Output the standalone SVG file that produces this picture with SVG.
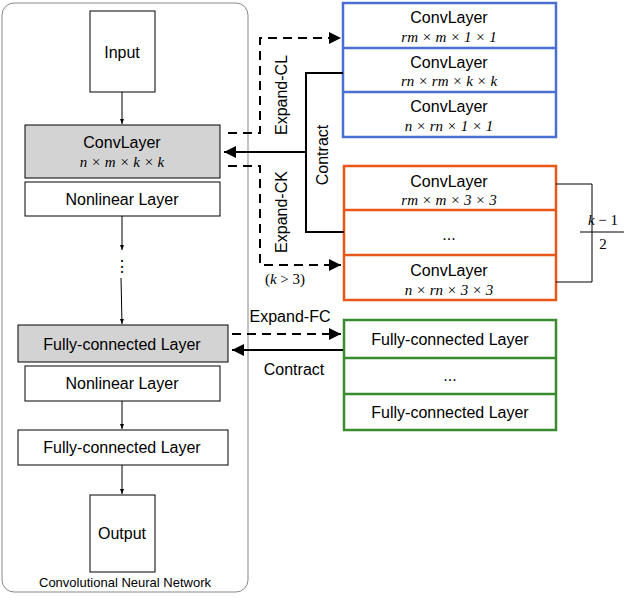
<svg xmlns="http://www.w3.org/2000/svg" width="627" height="606" viewBox="0 0 627 606">
<style>
text{font-family:"Liberation Sans",Arial,sans-serif;font-size:16px;fill:#000;text-anchor:middle}
.m{font-family:"Liberation Serif","DejaVu Serif",serif;font-style:italic;font-size:15px}
.b{fill:#fff;stroke:#000;stroke-width:1}
.g{fill:#d3d3d3;stroke:#000;stroke-width:1}
.blue{fill:#fff;stroke:#4a6fd0;stroke-width:2.5}
.or{fill:#fff;stroke:#e8561a;stroke-width:2.5}
.gr{fill:#fff;stroke:#3a8a2e;stroke-width:2.5}
.s{fill:none;stroke:#000;stroke-width:2}
.d{fill:none;stroke:#000;stroke-width:2;stroke-dasharray:9,6}
.t{fill:none;stroke:#000;stroke-width:1}
</style>
<defs>
<marker id="a" viewBox="0 0 10 10" refX="10" refY="5" markerWidth="6" markerHeight="6" orient="auto"><path d="M0,0L10,5L0,10z"/></marker>
<marker id="s" viewBox="0 0 10 10" refX="10" refY="5" markerWidth="5" markerHeight="5" orient="auto"><path d="M0,1L10,5L0,9z"/></marker>
</defs>
<g id="cnn"><rect x="2" y="3" width="246" height="589" rx="12" fill="#fff" stroke="#888" stroke-width="1"/><text x="125" y="587" style="font-size:13px">Convolutional Neural Network</text></g>
<g id="input"><rect class="b" x="90" y="11" width="65" height="81"/><text x="122" y="58">Input</text></g>
<g id="conv"><rect class="g" x="25" y="125" width="195" height="53"/><text x="122" y="148">ConvLayer</text><text class="m" x="122" y="167">n × m × k × k</text></g>
<g id="nl1"><rect class="b" x="25" y="182" width="195" height="34"/><text x="122" y="205">Nonlinear Layer</text></g>
<g id="dots"><text x="122" y="272">⋮</text></g>
<g id="fc"><rect class="g" x="18" y="325" width="210" height="37"/><text x="122" y="350">Fully-connected Layer</text></g>
<g id="nl2"><rect class="b" x="25" y="366" width="195" height="35"/><text x="122" y="389">Nonlinear Layer</text></g>
<g id="fc2"><rect class="b" x="18" y="430" width="210" height="35"/><text x="122" y="453">Fully-connected Layer</text></g>
<g id="output"><rect class="b" x="90" y="495" width="65" height="77"/><text x="122" y="539">Output</text></g>
<g id="blue">
<rect class="blue" x="343" y="3" width="213" height="134"/><line class="blue" x1="343" y1="48" x2="556" y2="48"/><line class="blue" x1="343" y1="92" x2="556" y2="92"/>
<text x="449" y="23">ConvLayer</text><text class="m" x="449" y="42">rm × m × 1 × 1</text>
<text x="449" y="68">ConvLayer</text><text class="m" x="449" y="86">rn × rm × k × k</text>
<text x="449" y="112">ConvLayer</text><text class="m" x="449" y="131">n × rn × 1 × 1</text>
</g>
<g id="orange">
<rect class="or" x="344" y="166" width="212" height="134"/><line class="or" x1="344" y1="210" x2="556" y2="210"/><line class="or" x1="344" y1="255" x2="556" y2="255"/>
<text x="449" y="187">ConvLayer</text><text class="m" x="449" y="205">rm × m × 3 × 3</text>
<text x="449" y="240">...</text>
<text x="449" y="276">ConvLayer</text><text class="m" x="449" y="295">n × rn × 3 × 3</text>
</g>
<g id="green">
<rect class="gr" x="344" y="320" width="212" height="110"/><line class="gr" x1="344" y1="358" x2="556" y2="358"/><line class="gr" x1="344" y1="394" x2="556" y2="394"/>
<text x="450" y="345">Fully-connected Layer</text><text x="450" y="381">...</text><text x="450" y="418">Fully-connected Layer</text>
</g>
<g id="bracket"><path class="t" d="M556,184H592V282H556"/><line class="t" x1="580" y1="232" x2="624" y2="232"/><text class="m" x="603" y="225" style="font-style:normal"><tspan font-style="italic">k</tspan> − 1</text><text class="m" x="603" y="249" style="font-style:normal">2</text></g>
<g id="connectors">
<line class="t" x1="122" y1="92" x2="122" y2="124" marker-end="url(#s)"/>
<line class="t" x1="122" y1="216" x2="122" y2="250" marker-end="url(#s)"/>
<line class="t" x1="121" y1="278" x2="122" y2="324" marker-end="url(#s)"/>
<line class="t" x1="122" y1="401" x2="122" y2="429" marker-end="url(#s)"/>
<line class="t" x1="122" y1="465" x2="122" y2="494" marker-end="url(#s)"/>
<path class="d" d="M228,133H260V38H341" marker-end="url(#a)"/>
<path class="d" d="M228,166H260V265H341" marker-end="url(#a)"/>
<path class="s" d="M343,73H306V232H344"/>
<line class="s" x1="306" y1="152" x2="224" y2="152" marker-end="url(#a)"/>
<line class="d" x1="232" y1="334" x2="341" y2="334" marker-end="url(#a)"/>
<line class="s" x1="343" y1="350" x2="232" y2="350" marker-end="url(#a)"/>
<text transform="translate(287,95) rotate(-90)">Expand-CL</text>
<text transform="translate(328,155) rotate(-90)">Contract</text>
<text transform="translate(287,212) rotate(-90)">Expand-CK</text>
<text class="m" x="285" y="284" style="font-style:normal">(<tspan font-style="italic">k</tspan> &gt; 3)</text>
<text x="290" y="322">Expand-FC</text>
<text x="294" y="375">Contract</text>
</g>
</svg>
